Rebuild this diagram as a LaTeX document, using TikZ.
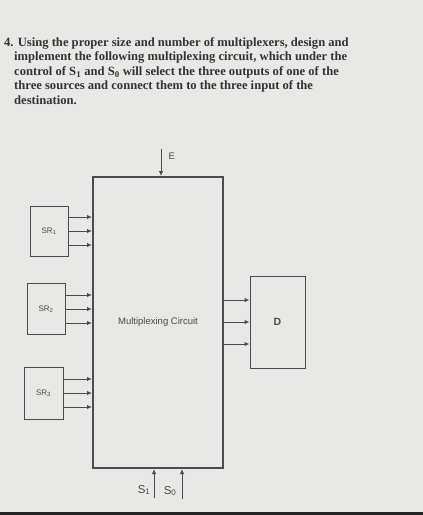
\documentclass[tikz,border=0pt]{standalone}
\usepackage{fontspec}
\setmainfont{Liberation Serif}
\setsansfont{Liberation Sans}
\usetikzlibrary{arrows.meta}
\definecolor{paper}{RGB}{232,232,230}
\definecolor{ink}{RGB}{75,75,75}
\begin{document}
\begin{tikzpicture}
[x=1pt,y=-1pt,
  blockdecorate/.style={shape=rectangle,draw=ink,line width=0.9pt,inner sep=0pt,
    font=\sffamily\fontsize{8}{9}\selectfont,text=ink},
  arrowdecorate/.style={-{Latex[length=5pt,width=4.5pt]},draw=ink,line width=1pt}]
% paper
\fill[paper] (0,0) rectangle (423,515);
\fill[black!85] (0,512) rectangle (423,515);
% question text
\node (task) at (4,37) [anchor=north west,align=left,inner sep=0pt,
  font=\bfseries\fontsize{12.6}{14.6}\selectfont,text=black!80]
  {4. Using the proper size and number of multiplexers, design and\\
   \hspace*{10pt}implement the following multiplexing circuit, which under the\\
   \hspace*{10pt}control of S\textsubscript{1} and S\textsubscript{0} will select the three outputs of one of the\\
   \hspace*{10pt}three sources and connect them to the three input of the\\
   \hspace*{10pt}destination.};
% nodes or blocks
\node (sr1) at (49,231) [blockdecorate,minimum width=38pt,minimum height=50pt] {SR\textsubscript{1}};
\node (sr2) at (46,309) [blockdecorate,minimum width=38pt,minimum height=51pt] {SR\textsubscript{2}};
\node (sr3) at (43.5,393) [blockdecorate,minimum width=39pt,minimum height=52pt] {SR\textsubscript{3}};
\node (mux) at (158,322.5) [blockdecorate,line width=2pt,minimum width=130pt,minimum height=291pt,
  font=\sffamily\fontsize{9.5}{11}\selectfont] {Multiplexing Circuit};
\node (d) at (277.5,322) [blockdecorate,minimum width=55pt,minimum height=92pt,font=\sffamily\bfseries\fontsize{10.5}{12}\selectfont] {D};
\coordinate (e) at (161,149);
\coordinate (s1) at (154,498);
\coordinate (s0) at (182,499);
\node [right,text=ink,font=\sffamily\fontsize{9.5}{10}\selectfont] at (165,156) {E};
\node [left,text=ink,font=\sffamily\fontsize{11.5}{12}\selectfont] at (154,490) {S\textsubscript{1}};
\node [left,text=ink,font=\sffamily\fontsize{11.5}{12}\selectfont] at (180,491) {S\textsubscript{0}};
% edges or lines
\foreach \src in {sr1,sr2,sr3}
  \foreach \o in {14,0,-14}
    \draw[arrowdecorate] ([yshift=\o pt]\src.east) -- ([yshift=\o pt]\src.east -| mux.west);
\foreach \o in {22,0,-22}
  \draw[arrowdecorate] ([yshift=\o pt]d.west -| mux.east) -- ([yshift=\o pt]d.west);
\draw[arrowdecorate] (e) -- (e |- mux.north);
\draw[arrowdecorate] (s1) -- (s1 |- mux.south);
\draw[arrowdecorate] (s0) -- (s0 |- mux.south);
\end{tikzpicture}
\end{document}
